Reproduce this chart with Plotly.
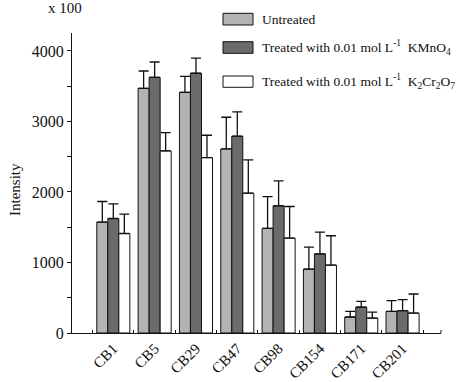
import plotly.graph_objects as go

categories = ["CB1", "CB5", "CB29", "CB47", "CB98", "CB154", "CB171", "CB201"]
untreated = [1573, 3471, 3414, 2611, 1485, 907, 227, 306]
untreated_err = [292, 245, 227, 449, 450, 311, 79, 152]
kmno4 = [1624, 3627, 3684, 2791, 1804, 1123, 368, 316]
kmno4_err = [208, 217, 216, 345, 354, 308, 80, 156]
k2cr2o7 = [1411, 2583, 2488, 1983, 1346, 963, 212, 283]
k2cr2o7_err = [275, 260, 317, 472, 448, 416, 85, 270]

series_names = [
    "Untreated",
    "Treated with 0.01 mol L<sup>-1</sup>  KMnO<sub>4</sub>",
    "Treated with 0.01 mol L<sup>-1</sup>  K<sub>2</sub>Cr<sub>2</sub>O<sub>7</sub>",
]
series_colors = ["#b3b3b3", "#6b6b6b", "#ffffff"]
series_vals = [untreated, kmno4, k2cr2o7]
series_errs = [untreated_err, kmno4_err, k2cr2o7_err]

FONT = "Liberation Serif"
W, H = 474, 382
ML, MR, MT, MB = 72, 33, 33, 49
PW, PH = W - ML - MR, H - MT - MB
PX0, PY0 = ML, MT

fig = go.Figure()
for name, col, vals, errs in zip(series_names, series_colors, series_vals, series_errs):
    fig.add_trace(go.Bar(
        x=categories, y=vals, name=name,
        marker=dict(color=col, line=dict(color="#111111", width=1)),
        error_y=dict(type="data", array=errs, arrayminus=[0] * len(errs),
                     symmetric=False, color="#111111", thickness=1.3, width=5),
        showlegend=False,
    ))

fig.update_layout(
    width=W, height=H,
    margin=dict(l=ML, r=MR, t=MT, b=MB, pad=0, autoexpand=False),
    paper_bgcolor="white", plot_bgcolor="white",
    barmode="group", bargap=0.2, bargroupgap=0,
    font=dict(family=FONT, color="#111111"),
)
fig.update_xaxes(
    type="category", range=[-1.0, 7.93], automargin=False,
    showline=True, linecolor="#111111", linewidth=1,
    ticks="inside", ticklen=3, tickcolor="#111111", tickson="boundaries",
    tickangle=-45, tickfont=dict(family=FONT, size=15, color="#111111"),
    showgrid=False, zeroline=False,
)
fig.update_yaxes(
    range=[0, 4255], automargin=False,
    tickvals=[0, 1000, 2000, 3000, 4000],
    showline=True, linecolor="#111111", linewidth=1,
    ticks="outside", ticklen=4, tickcolor="#111111",
    minor=dict(tickvals=[500, 1500, 2500, 3500], ticks="outside", ticklen=4, tickcolor="#111111"),
    tickfont=dict(family=FONT, size=16, color="#111111"),
    showgrid=False, zeroline=False,
)

def px(x):
    return (x - PX0) / PW

def py(y):
    return 1 - (y - PY0) / PH

# right end tick of x axis
fig.add_shape(type="line", xref="paper", yref="paper", x0=1, x1=1, y0=0, y1=3 / PH,
              line=dict(color="#111111", width=1))

# annotations
fig.add_annotation(text="x 100", xref="paper", yref="paper",
                   x=px(46), y=py(8), xanchor="left", yanchor="middle",
                   showarrow=False, font=dict(family=FONT, size=15))
fig.add_annotation(text="Intensity", xref="paper", yref="paper",
                   x=px(15), y=py(190), xanchor="center", yanchor="middle",
                   textangle=-90, showarrow=False, font=dict(family=FONT, size=15))

# manual legend
boxes = [(13.3, 25), (41.7, 53.3), (76, 87.3)]
for (y0, y1), name, col in zip(boxes, series_names, series_colors):
    fig.add_shape(type="rect", xref="paper", yref="paper",
                  x0=px(223), x1=px(253), y0=py(y1), y1=py(y0),
                  fillcolor=col, line=dict(color="#111111", width=1))
    fig.add_annotation(text=name, xref="paper", yref="paper",
                       x=px(260), y=py((y0 + y1) / 2),
                       xanchor="left", yanchor="middle", showarrow=False,
                       font=dict(family=FONT, size=13.5))

fig.write_html("out.html", config={"displayModeBar": False},
               post_script="document.body.style.margin='0';")
